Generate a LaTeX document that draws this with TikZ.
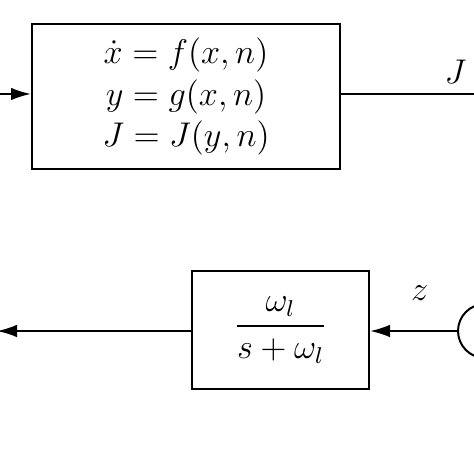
\documentclass[tikz,border=0pt]{standalone}
\usepackage{amsmath}
\usetikzlibrary{arrows.meta}
\begin{document}
\begin{tikzpicture}[x=0.35pt,y=-0.35pt,line width=0.7pt,font=\large,
	arrow/.style={-{Latex[length=7pt,width=4.4pt]}},
	block/.style={draw,align=center,inner sep=0pt}]
	\useasboundingbox (0,0) rectangle (474,474);
	\clip (0,0) rectangle (474,474);
	% top block
	\node[block,minimum width=107.8pt,minimum height=50.75pt] (sys) at (186,96.5)
	{$\dot{x}=f(x,n)$\\[0.5pt]$y=g(x,n)$\\[0.5pt]$J=J(y,n)$};
	\coordinate (in) at (-20,94);
	\coordinate (Jout) at (500,94);
	\draw[arrow] (in)--(sys.west|-in);
	\draw (sys.east|-Jout)--node[pos=0.72,above]{$J$}(Jout);
	% bottom block
	\node[block,minimum width=61.95pt,minimum height=41.3pt] (filt) at (280.5,330)
	{$\dfrac{\omega_l}{s+\omega_l}$};
	\node[draw,circle,minimum size=18.9pt,inner sep=0pt] (sum) at (485,331) {};
	\coordinate (out) at (-3,331);
	\draw[arrow] (sum.west)--node[pos=0.43,above=7pt]{$z$}(filt.east|-sum.west);
	\draw[arrow] (filt.west|-out)--(out);
\end{tikzpicture}
\end{document}
